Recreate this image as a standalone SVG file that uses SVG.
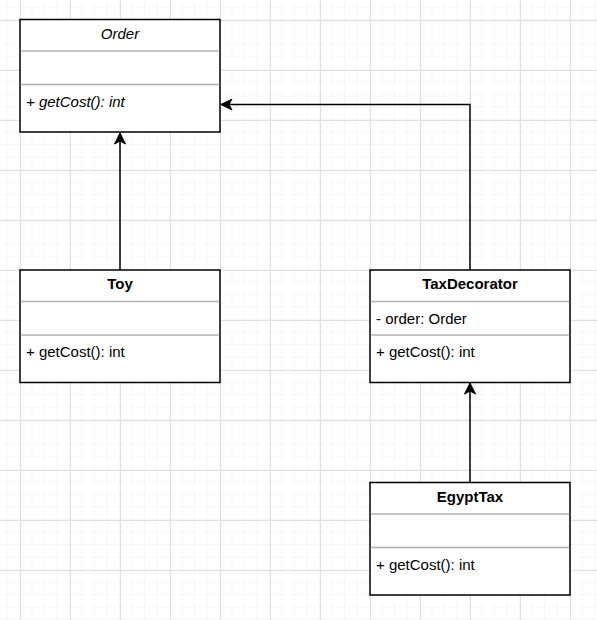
<svg xmlns="http://www.w3.org/2000/svg" width="597" height="620" viewBox="0 0 597 620">
<defs>
<pattern id="minor" x="7.5" y="7.5" width="12.5" height="12.5" patternUnits="userSpaceOnUse">
<path d="M12.5 0 V12.5 M0 12.5 H12.5" fill="none" stroke="#efefef" stroke-width="1"/>
</pattern>
<pattern id="major" x="20" y="20" width="50" height="50" patternUnits="userSpaceOnUse">
<path d="M0.5 0 V50 M0 0.5 H50" fill="none" stroke="#e0e0e0" stroke-width="1"/>
</pattern>
<marker id="arr" markerWidth="14" markerHeight="12" refX="12" refY="6" orient="auto" markerUnits="userSpaceOnUse">
<path d="M12 6 L1 0.5 L4 6 L1 11.5 Z" fill="#000" stroke="#000" stroke-width="1"/>
</marker>
<style>
.box{fill:#fff;stroke:#000;stroke-width:1.5}
.sep{stroke:#b3b3b3;stroke-width:1.5}
.t{font-family:"Liberation Sans",Arial,sans-serif;font-size:15px;fill:#000}
.h{font-weight:bold;text-anchor:middle}
.i{font-style:italic}
.c{fill:none;stroke:#000;stroke-width:1.5}
</style>
</defs>
<rect width="597" height="620" fill="#fff"/>
<rect width="597" height="620" fill="url(#minor)"/>
<rect width="597" height="620" fill="url(#major)"/>
<g id="connectors">
<path class="c" d="M120 270 V133" marker-end="url(#arr)"/>
<path class="c" d="M470 270 V104.5 H221" marker-end="url(#arr)"/>
<path class="c" d="M470 482.5 V383" marker-end="url(#arr)"/>
</g>
<g id="Order">
<rect class="box" x="20" y="19.5" width="200" height="112.5"/>
<line class="sep" x1="20.75" y1="51" x2="219.25" y2="51"/>
<line class="sep" x1="20.75" y1="84.5" x2="219.25" y2="84.5"/>
<text class="t i" x="120" y="38.5" text-anchor="middle">Order</text>
<text class="t i" x="26" y="106.5">+ getCost(): int</text>
</g>
<g id="Toy">
<rect class="box" x="20" y="270" width="200" height="112.5"/>
<line class="sep" x1="20.75" y1="301.5" x2="219.25" y2="301.5"/>
<line class="sep" x1="20.75" y1="335" x2="219.25" y2="335"/>
<text class="t h" x="120" y="289">Toy</text>
<text class="t" x="26" y="357">+ getCost(): int</text>
</g>
<g id="TaxDecorator">
<rect class="box" x="370" y="270" width="200" height="112.5"/>
<line class="sep" x1="370.75" y1="301.5" x2="569.25" y2="301.5"/>
<line class="sep" x1="370.75" y1="335" x2="569.25" y2="335"/>
<text class="t h" x="470" y="289">TaxDecorator</text>
<text class="t" x="376" y="323.5">- order: Order</text>
<text class="t" x="376" y="357">+ getCost(): int</text>
</g>
<g id="EgyptTax">
<rect class="box" x="370" y="482.5" width="200" height="112.5"/>
<line class="sep" x1="370.75" y1="514" x2="569.25" y2="514"/>
<line class="sep" x1="370.75" y1="547.5" x2="569.25" y2="547.5"/>
<text class="t h" x="470" y="501.5">EgyptTax</text>
<text class="t" x="376" y="569.5">+ getCost(): int</text>
</g>
</svg>
